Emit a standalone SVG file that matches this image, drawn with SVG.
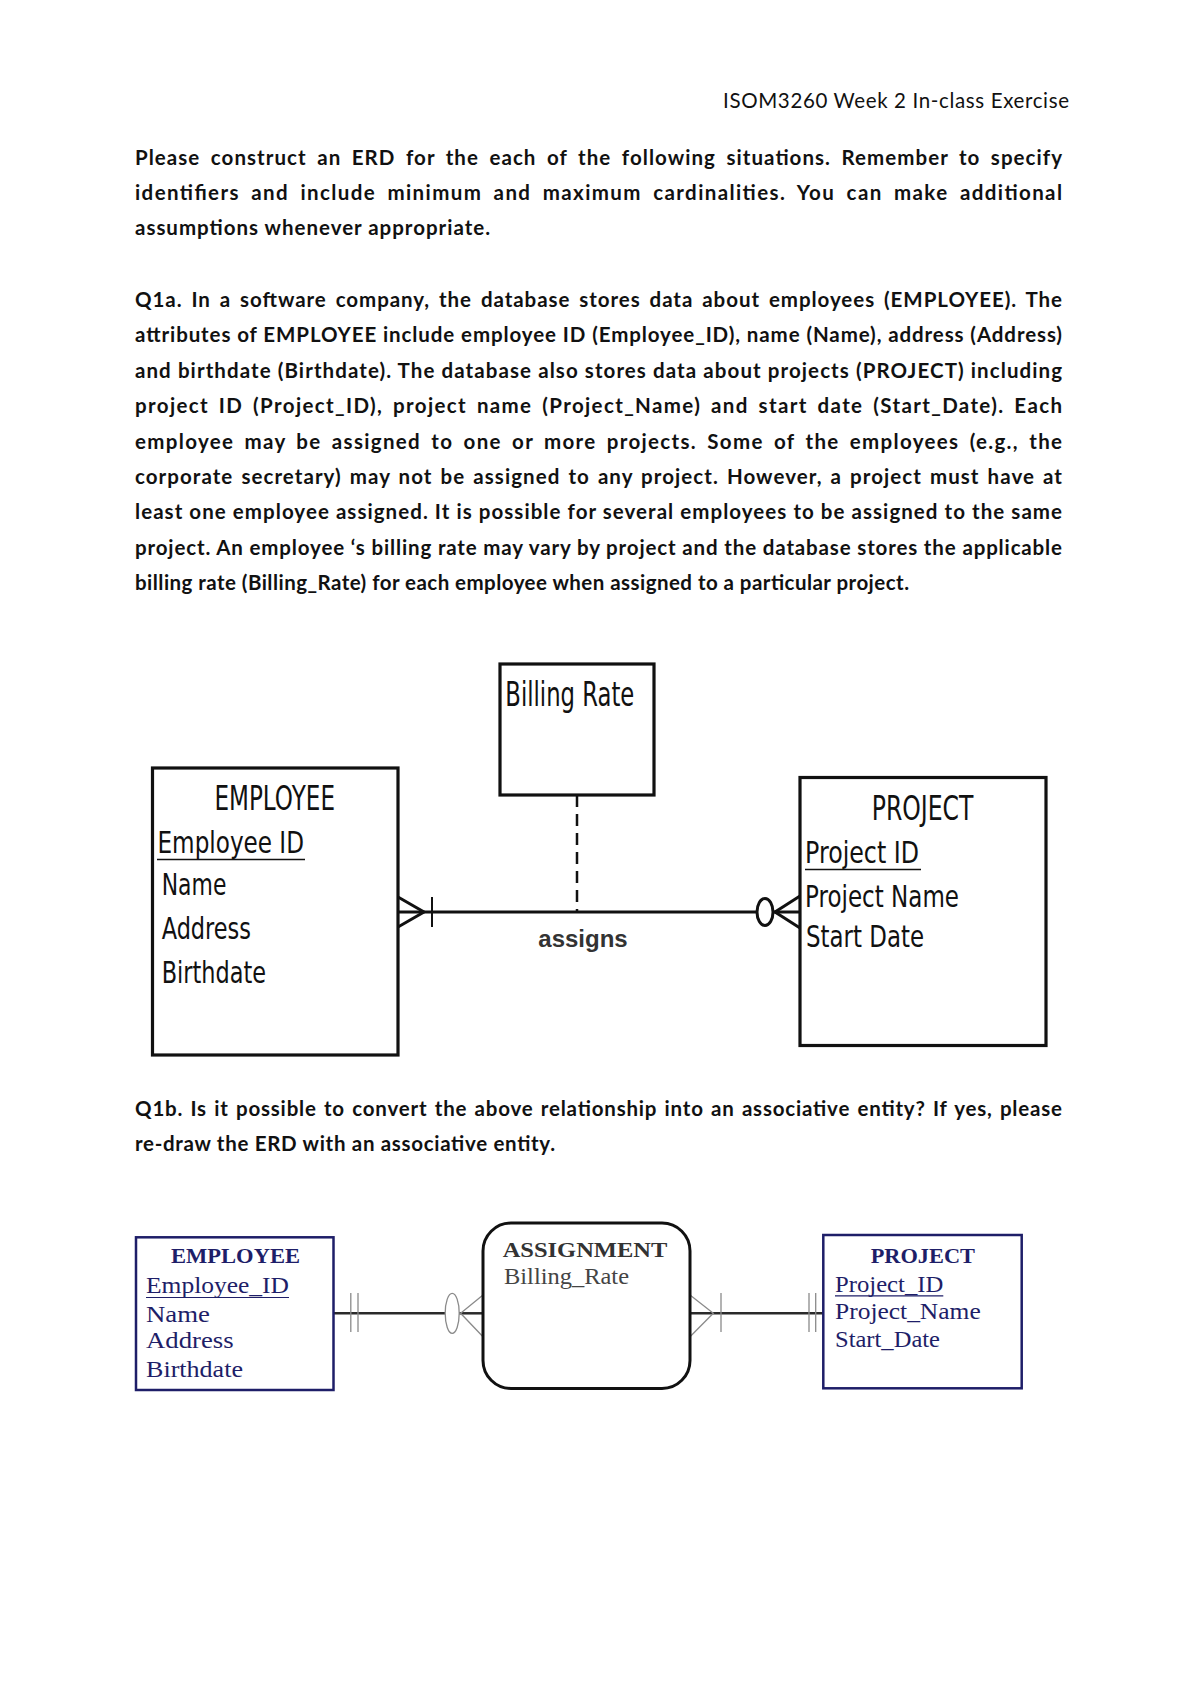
<svg xmlns="http://www.w3.org/2000/svg" width="1200" height="1696" viewBox="0 0 1200 1696">
<style>
.p{font-family:Lato,"Liberation Sans",sans-serif;font-weight:bold;font-size:20.5px;fill:#111}
.h{font-family:Lato,"Liberation Sans",sans-serif;font-size:20.5px;fill:#111}
.e1{font-family:"DejaVu Sans",sans-serif;fill:#111}
.t1{font-size:34px}
.a1{font-size:31px}
.box1{fill:none;stroke:#111;stroke-width:3.2}
.ln1{fill:none;stroke:#111;stroke-width:3}
.e2{font-family:"Liberation Serif",serif;font-size:23px;fill:#1e1e68}
.e2b{font-weight:bold;font-size:22px}
.box2{fill:none;stroke:#1e1e68;stroke-width:2.5}
.thin{fill:none;stroke:#8a8a8a;stroke-width:1.3}
.dark{fill:none;stroke:#2a2a2a;stroke-width:2.5}
</style>
<rect width="1200" height="1696" fill="#fff"/>

<g id="text">
<text class="h" x="1069" y="108" text-anchor="end" textLength="346" lengthAdjust="spacing">ISOM3260 Week 2 In-class Exercise</text>
<text class="p" x="135" y="165" textLength="927" lengthAdjust="spacing" word-spacing="4.5">Please construct an ERD for the each of the following situations. Remember to specify</text>
<text class="p" x="135" y="200" textLength="927" lengthAdjust="spacing" word-spacing="5">identifiers and include minimum and maximum cardinalities. You can make additional</text>
<text class="p" x="135" y="235" textLength="355" lengthAdjust="spacing">assumptions whenever appropriate.</text>

<text class="p" x="135" y="307" textLength="927" lengthAdjust="spacing" word-spacing="3">Q1a. In a software company, the database stores data about employees (EMPLOYEE). The</text>
<text class="p" x="135" y="342" textLength="927" lengthAdjust="spacing">attributes of EMPLOYEE include employee ID (Employee_ID), name (Name), address (Address)</text>
<text class="p" x="135" y="378" textLength="927" lengthAdjust="spacing">and birthdate (Birthdate). The database also stores data about projects (PROJECT) including</text>
<text class="p" x="135" y="413" textLength="927" lengthAdjust="spacing" word-spacing="3.5">project ID (Project_ID), project name (Project_Name) and start date (Start_Date). Each</text>
<text class="p" x="135" y="448.5" textLength="927" lengthAdjust="spacing" word-spacing="4">employee may be assigned to one or more projects. Some of the employees (e.g., the</text>
<text class="p" x="135" y="484" textLength="927" lengthAdjust="spacing" word-spacing="2">corporate secretary) may not be assigned to any project. However, a project must have at</text>
<text class="p" x="135" y="519" textLength="927" lengthAdjust="spacing">least one employee assigned. It is possible for several employees to be assigned to the same</text>
<text class="p" x="135" y="554.5" textLength="927" lengthAdjust="spacing">project. An employee ‘s billing rate may vary by project and the database stores the applicable</text>
<text class="p" x="135" y="590" textLength="774" lengthAdjust="spacing">billing rate (Billing_Rate) for each employee when assigned to a particular project.</text>

<text class="p" x="135" y="1116" textLength="927" lengthAdjust="spacing" word-spacing="1.5">Q1b. Is it possible to convert the above relationship into an associative entity? If yes, please</text>
<text class="p" x="135" y="1151" textLength="420" lengthAdjust="spacing">re-draw the ERD with an associative entity.</text>
</g>

<!-- ERD 1 -->
<g id="connectors1">
<line class="ln1" x1="398" y1="912" x2="757" y2="912"/>
<polyline class="ln1" points="398,897 424,912 398,927"/>
<line x1="432" y1="897" x2="432" y2="927" stroke="#111" stroke-width="2"/>
<line x1="577" y1="795" x2="577" y2="912" stroke="#111" stroke-width="2.5" stroke-dasharray="12,7"/>
<ellipse cx="765" cy="912" rx="8" ry="13.5" fill="#fff" stroke="#111" stroke-width="3"/>
<polyline class="ln1" points="800,896 775,912 800,928"/>
<line class="ln1" x1="773" y1="912" x2="800" y2="912"/>
<text x="583" y="947" text-anchor="middle" font-family="'Liberation Sans',Arial,sans-serif" font-weight="bold" font-size="24" fill="#333">assigns</text>
</g>
<g id="employee1">
<rect class="box1" x="152.5" y="768" width="245.5" height="287"/>
<text class="e1 t1" x="214.4" y="810" textLength="120.6" lengthAdjust="spacingAndGlyphs">EMPLOYEE</text>
<text class="e1 a1" x="157.5" y="853" textLength="146.5" lengthAdjust="spacingAndGlyphs">Employee ID</text>
<line x1="157" y1="859.5" x2="305" y2="859.5" stroke="#111" stroke-width="1.6"/>
<text class="e1 a1" x="161.7" y="895" textLength="64.7" lengthAdjust="spacingAndGlyphs">Name</text>
<text class="e1 a1" x="161.7" y="939" textLength="89.3" lengthAdjust="spacingAndGlyphs">Address</text>
<text class="e1 a1" x="161.7" y="983" textLength="104.3" lengthAdjust="spacingAndGlyphs">Birthdate</text>
</g>
<g id="billingrate1">
<rect class="box1" x="500" y="664" width="154" height="131"/>
<text class="e1" font-size="33" x="505.3" y="706" textLength="129" lengthAdjust="spacingAndGlyphs">Billing Rate</text>
</g>
<g id="project1">
<rect class="box1" x="800" y="777.5" width="246" height="268"/>
<text class="e1 t1" x="871.7" y="820" textLength="101.7" lengthAdjust="spacingAndGlyphs">PROJECT</text>
<text class="e1 a1" x="805" y="863" textLength="114" lengthAdjust="spacingAndGlyphs">Project ID</text>
<line x1="805" y1="869.5" x2="921" y2="869.5" stroke="#111" stroke-width="1.6"/>
<text class="e1 a1" x="805" y="906.7" textLength="154" lengthAdjust="spacingAndGlyphs">Project Name</text>
<text class="e1 a1" x="806" y="946.7" textLength="118" lengthAdjust="spacingAndGlyphs">Start Date</text>
</g>

<!-- ERD 2 -->
<g id="connectors2">
<line class="dark" x1="333.5" y1="1313.3" x2="445" y2="1313.3"/>
<line class="dark" x1="459" y1="1313.3" x2="483" y2="1313.3"/>
<line class="thin" x1="350.8" y1="1293" x2="350.8" y2="1332"/>
<line class="thin" x1="358" y1="1293" x2="358" y2="1332"/>
<ellipse cx="452.2" cy="1313.3" rx="7" ry="20" fill="#fff" stroke="#8a8a8a" stroke-width="1.3"/>
<polyline class="thin" points="483,1295 460.6,1313.3 483,1336.7"/>
<line class="dark" x1="690" y1="1313.3" x2="823.3" y2="1313.3"/>
<polyline class="thin" points="690,1295 713.3,1313.3 690,1336.7"/>
<line class="thin" x1="721" y1="1293" x2="721" y2="1332"/>
<line class="thin" x1="809" y1="1293" x2="809" y2="1332"/>
<line class="thin" x1="815.7" y1="1293" x2="815.7" y2="1332"/>
</g>
<g id="employee2">
<rect class="box2" x="136" y="1237.3" width="197.5" height="152.7"/>
<text class="e2 e2b" x="171" y="1263.3" textLength="129" lengthAdjust="spacingAndGlyphs">EMPLOYEE</text>
<text class="e2" x="146" y="1293.3" textLength="143" lengthAdjust="spacingAndGlyphs">Employee_ID</text>
<line x1="146" y1="1297.5" x2="289" y2="1297.5" stroke="#1e1e68" stroke-width="1.2"/>
<text class="e2" x="146" y="1321.7" textLength="64" lengthAdjust="spacingAndGlyphs">Name</text>
<text class="e2" x="146" y="1348.3" textLength="87.7" lengthAdjust="spacingAndGlyphs">Address</text>
<text class="e2" x="146" y="1376.7" textLength="97" lengthAdjust="spacingAndGlyphs">Birthdate</text>
</g>
<g id="assignment2">
<rect x="483" y="1223" width="207" height="165.5" rx="28" fill="none" stroke="#111" stroke-width="3"/>
<text class="e2 e2b" x="502.7" y="1256.7" textLength="164.6" lengthAdjust="spacingAndGlyphs" style="fill:#333">ASSIGNMENT</text>
<text class="e2" x="504" y="1284" textLength="125" lengthAdjust="spacingAndGlyphs" style="fill:#444">Billing_Rate</text>
</g>
<g id="project2">
<rect class="box2" x="823.3" y="1235" width="198.4" height="153.3"/>
<text class="e2 e2b" x="870.7" y="1263.3" textLength="104.3" lengthAdjust="spacingAndGlyphs">PROJECT</text>
<text class="e2" x="835" y="1291.7" textLength="108.3" lengthAdjust="spacingAndGlyphs">Project_ID</text>
<line x1="835" y1="1295.8" x2="943.3" y2="1295.8" stroke="#1e1e68" stroke-width="1.2"/>
<text class="e2" x="835" y="1319.3" textLength="145.7" lengthAdjust="spacingAndGlyphs">Project_Name</text>
<text class="e2" x="835" y="1346.7" textLength="105" lengthAdjust="spacingAndGlyphs">Start_Date</text>
</g>
</svg>
